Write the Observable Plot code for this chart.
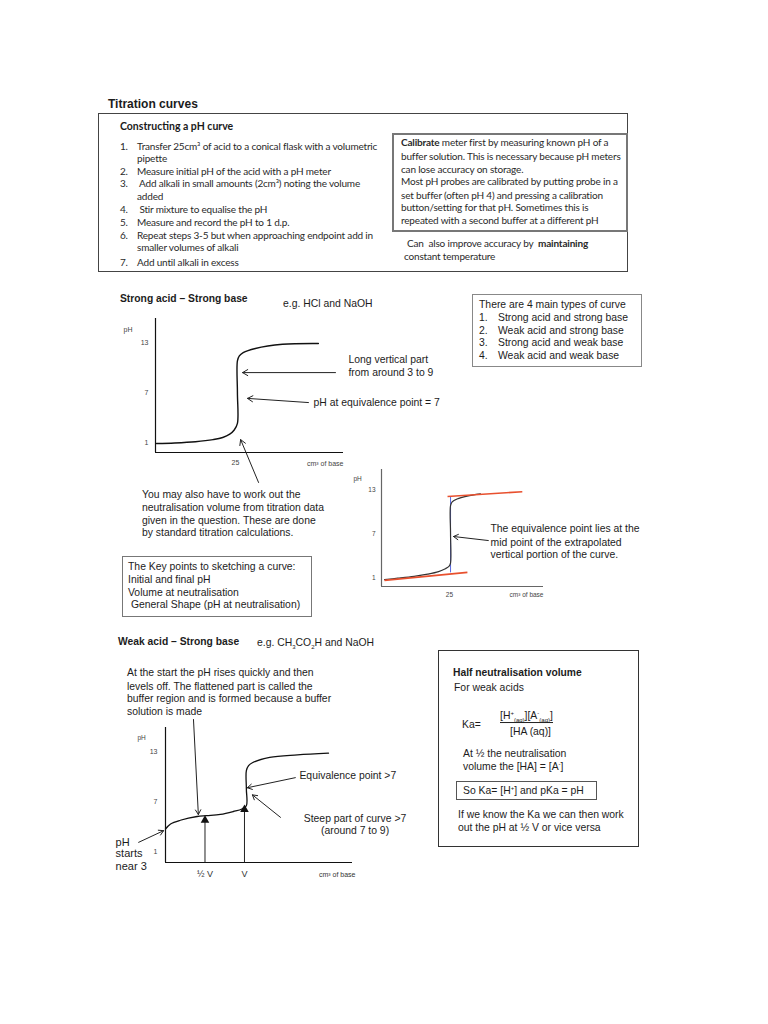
<!DOCTYPE html>
<html><head><meta charset="utf-8">
<script src="https://cdn.jsdelivr.net/npm/d3@7"></script>
<script src="https://cdn.jsdelivr.net/npm/@observablehq/plot@0.6"></script>
<style>
html,body{margin:0;padding:0;background:#fff;}
#page{position:relative;width:768px;height:1024px;overflow:hidden;font-family:"Liberation Sans",Arial,sans-serif;color:#1c1c1c;background:#fff;}
.t{position:absolute;white-space:pre;transform:translateY(-50%);line-height:1.15;}
.c{font-family:Lato,"Open Sans",sans-serif;color:#2a2a2a;font-size:10px;letter-spacing:-0.18px;}
.a{font-size:10.4px;}
.box{position:absolute;box-sizing:border-box;}
.pl{position:absolute;}
sub.s,sup.s{font-size:6px;line-height:0;}
</style></head><body><div id="page"></div>
<script>
// ---------- Chart 1: strong acid – strong base ----------
const sasbVolume = [0.3, 6, 12.5, 18, 21, 23.2, 24.6, 25.6, 25.6, 25.6, 26.2, 27.4, 31.2, 39.7, 50.9];
const sasbPH     = [0.88, 0.95, 1.1, 1.35, 1.6, 2.0, 2.5, 3.3, 7, 10.8, 11.4, 11.8, 12.3, 12.8, 12.9];
const sasbYTicks = [1, 7, 13];
const sasbXTicks = [25];
const sasbArrows = [
  {x1: 56.25, y1: 9.4, x2: 27.2, y2: 9.4},
  {x1: 47.8, y1: 5.8, x2: 28.75, y2: 6.3},
  {x1: 32.2, y1: -3.8, x2: 26.6, y2: 1.35}
];
const sasbNotes = [
  {x: 60.3, y: 10.96, text: "Long vertical part"},
  {x: 60.3, y: 9.4, text: "from around 3 to 9"},
  {x: 49.4, y: 5.8, text: "pH at equivalence point = 7"}
];

// ---------- Chart 2: extrapolated equivalence point ----------
const eqVolume = [1.1, 6, 12, 17, 21, 23.5, 24.9, 25.4, 25.4, 25.4, 26, 27.8, 31.5, 36.4];
const eqPH     = [0.72, 0.9, 1.15, 1.45, 1.8, 2.2, 2.55, 3.0, 7, 10.8, 11.3, 11.7, 12.1, 12.4];
const eqYTicks = [1, 7, 13];
const eqXTicks = [25];
const eqTangents = [
  {x1: 1.1, y1: 0.6, x2: 31.6, y2: 1.7},
  {x1: 24.3, y1: 12.05, x2: 51.8, y2: 12.7}
];
const eqVertical = [{x: 25.4, y1: 1.7, y2: 12.05}];
const eqArrows = [{x1: 39.3, y1: 6.04, x2: 26.5, y2: 6.59}];
const eqNotes = [
  {x: 40.1, y: 7.68, text: "The equivalence point lies at the"},
  {x: 40.1, y: 5.77, text: "mid point of the extrapolated"},
  {x: 40.1, y: 4.13, text: "vertical portion of the curve."}
];

// ---------- Chart 3: weak acid – strong base ----------
const wasbVolume = [0, 1.6, 4.7, 10, 13, 17.4, 21.5, 24.2, 25.6, 25.6, 25.6, 26.3, 27.5, 33, 41.8, 51.6];
const wasbPH     = [3.7, 4.3, 4.75, 5.2, 5.3, 5.45, 5.8, 6.1, 6.5, 8.5, 10.7, 11.3, 11.65, 12.3, 12.6, 12.8];
const wasbYTicks = [1, 7, 13];
const wasbXTicks = [12.5, 25];
const wasbXTickLabels = ["½ V", "V"];
const wasbArrows = [
  {x1: 8.86, y1: 16.84, x2: 10.4, y2: 5.44},
  {x1: 41.1, y1: 9.86, x2: 25.9, y2: 8.65},
  {x1: 36.4, y1: 5.1, x2: 27.5, y2: 7.8},
  {x1: -8.5, y1: 2.1, x2: -0.6, y2: 3.5}
];
const wasbUpArrows = [{x: 12.5, y1: -0.32, y2: 5.1}, {x: 25, y1: -0.32, y2: 6.4}];
const wasbNotesLeft = [
  {x: 42.4, y: 10.1, text: "Equivalence point >7"}
];
const wasbNotesCentred = [
  {x: 60, y: 4.96, text: "Steep part of curve >7"},
  {x: 60, y: 3.52, text: "(around 7 to 9)"}
];
const wasbStartNotes = [
  {x: -15.8, y: 2.08, text: "pH"},
  {x: -15.8, y: 0.76, text: "starts"},
  {x: -15.8, y: -0.8, text: "near 3"}
];

// ---------- page helpers ----------
const page = document.getElementById("page");
function T(x, y, html, cls = "a", extra = "") {
  const d = document.createElement("div");
  d.className = "t " + cls;
  d.style.left = x + "px"; d.style.top = y + "px";
  if (extra) d.style.cssText += extra;
  d.innerHTML = html;
  page.appendChild(d);
}
function B(x1, y1, x2, y2, border) {
  const d = document.createElement("div");
  d.className = "box";
  d.style.left = x1 + "px"; d.style.top = y1 + "px";
  d.style.width = (x2 - x1) + "px"; d.style.height = (y2 - y1) + "px";
  d.style.border = border;
  page.appendChild(d);
}
function place(svg, x, y) {
  svg.classList.add("pl");
  svg.style.left = x + "px"; svg.style.top = y + "px";
  page.appendChild(svg);
}
const FONT = "'Liberation Sans', Arial, sans-serif";
const baseStyle = {fontFamily: FONT, color: "#222", background: "transparent", overflow: "visible"};
const line = (xs, ys) => xs.map((v, i) => ({x: v, y: ys[i]}));

// ---------- top section ----------
T(108, 105, "<b>Titration curves</b>", "a", "font-size:12px;");
B(98, 113, 628, 272, "1.5px solid #444");
T(120, 126, "<b>Constructing a pH curve</b>", "c", "font-size:10.5px;color:#1a1a1a;letter-spacing:0;");
const steps = [
  [147, "1.", "Transfer 25cm³ of acid to a conical flask with a volumetric"],
  [159, "", "pipette"],
  [172, "2.", "Measure initial pH of the acid with a pH meter"],
  [184, "3.", " Add alkali in small amounts (2cm³) noting the volume"],
  [197, "", "added"],
  [210, "4.", " Stir mixture to equalise the pH"],
  [223, "5.", "Measure and record the pH to 1 d.p."],
  [236, "6.", "Repeat steps 3-5 but when approaching endpoint add in"],
  [248, "", "smaller volumes of alkali"],
  [263, "7.", "Add until alkali in excess"]
];
for (const [y, n, s] of steps) { if (n) T(120, y, n, "c"); T(137, y, s, "c"); }
B(392, 133, 628, 232, "2px solid #777");
const calib = [
  [143, "<b>Calibrate</b> meter first by measuring known pH of a"],
  [157, "buffer solution. This is necessary because pH meters"],
  [169.5, "can lose accuracy on storage."],
  [182, "Most pH probes are calibrated by putting probe in a"],
  [195.5, "set buffer (often pH 4) and pressing a calibration"],
  [208, "button/setting for that pH. Sometimes this is"],
  [221, "repeated with a second buffer at a different pH"]
];
for (const [y, s] of calib) T(401, y, s, "c");
T(407, 244, "Can  also improve accuracy by  <b>maintaining</b>", "c");
T(404, 257, "constant temperature", "c");

// ---------- chart 1 section ----------
T(120, 299, "<b>Strong acid – Strong base</b>", "a", "font-size:10.3px;");
T(283, 304, "e.g. HCl and NaOH");
B(472, 294, 642, 367, "1.5px solid #888");
T(479, 305, "There are 4 main types of curve");
const types = ["Strong acid and strong base", "Weak acid and strong base", "Strong acid and weak base", "Weak acid and weak base"];
types.forEach((s, i) => { T(479, 318 + i * 12.7, (i + 1) + "."); T(498, 318 + i * 12.7, s); });

place(Plot.plot({
  width: 360, height: 185,
  marginLeft: 55, marginRight: 117, marginTop: 10, marginBottom: 41,
  x: {domain: [0, 58.75], axis: null},
  y: {domain: [-0.2, 15.9], axis: null},
  style: baseStyle,
  marks: [
    Plot.axisY(sasbYTicks, {tickSize: 0, tickPadding: 7, fontSize: 7, label: null, fill: "#444"}),
    Plot.axisX(sasbXTicks, {tickSize: 0, tickPadding: 8, fontSize: 7, label: null, fill: "#444"}),
    Plot.ruleX([0], {stroke: "#111", strokeWidth: 1.2}),
    Plot.ruleY([-0.2], {stroke: "#111", strokeWidth: 1.2}),
    Plot.text(["pH"], {frameAnchor: "top-left", dx: -32, dy: 9, textAnchor: "start", fontSize: 7, fill: "#444"}),
    Plot.text(["cm³ of base"], {frameAnchor: "bottom-right", dy: 11, textAnchor: "end", lineAnchor: "middle", fontSize: 7, fill: "#444"}),
    Plot.line(line(sasbVolume, sasbPH), {x: "x", y: "y", curve: "catmull-rom", stroke: "#111", strokeWidth: 1.4}),
    Plot.arrow(sasbArrows, {x1: "x1", y1: "y1", x2: "x2", y2: "y2", stroke: "#222", strokeWidth: 1, headLength: 9}),
    Plot.text(sasbNotes, {x: "x", y: "y", text: "text", textAnchor: "start", lineAnchor: "middle", fontSize: 10.4, fill: "#1c1c1c"})
  ]
}), 100, 308);

T(142, 495, "You may also have to work out the");
T(142, 508, "neutralisation volume from titration data");
T(142, 521, "given in the question. These are done");
T(142, 533, "by standard titration calculations.");
B(122, 556, 312, 617, "1px solid #777");
T(128, 567, "The Key points to sketching a curve:");
T(128, 580, "Initial and final pH");
T(128, 593, "Volume at neutralisation");
T(128, 605, " General Shape (pH at neutralisation)");

// ---------- chart 2 ----------
place(Plot.plot({
  width: 300, height: 145,
  marginLeft: 36, marginRight: 102, marginTop: 9, marginBottom: 19,
  x: {domain: [0, 59.6], axis: null},
  y: {domain: [-0.23, 15.73], axis: null},
  style: baseStyle,
  marks: [
    Plot.axisY(eqYTicks, {tickSize: 0, tickPadding: 6, fontSize: 6.5, label: null, fill: "#444"}),
    Plot.axisX(eqXTicks, {tickSize: 0, tickPadding: 5.5, fontSize: 6.5, label: null, fill: "#444"}),
    Plot.ruleX([0], {stroke: "#666", strokeWidth: 1.2}),
    Plot.ruleY([-0.23], {stroke: "#666", strokeWidth: 1.2}),
    Plot.text(["pH"], {frameAnchor: "top-left", dx: -28, dy: 7, textAnchor: "start", fontSize: 6.5, fill: "#444"}),
    Plot.text(["cm³ of base"], {frameAnchor: "bottom-right", dy: 8, textAnchor: "end", lineAnchor: "middle", fontSize: 6.5, fill: "#444"}),
    Plot.link(eqVertical, {x1: "x", x2: "x", y1: "y1", y2: "y2", stroke: "#4a5ae0", strokeWidth: 0.9}),
    Plot.line(line(eqVolume, eqPH), {x: "x", y: "y", curve: "catmull-rom", stroke: "#333", strokeWidth: 1.2}),
    Plot.link(eqTangents, {x1: "x1", y1: "y1", x2: "x2", y2: "y2", stroke: "#e8502e", strokeWidth: 1.6}),
    Plot.arrow(eqArrows, {x1: "x1", y1: "y1", x2: "x2", y2: "y2", stroke: "#222", strokeWidth: 1, headLength: 8}),
    Plot.text(eqNotes, {x: "x", y: "y", text: "text", textAnchor: "start", lineAnchor: "middle", fontSize: 10.4, fill: "#1c1c1c"})
  ]
}), 345, 460);

// ---------- chart 3 section ----------
T(118, 642, "<b>Weak acid – Strong base</b>", "a", "font-size:10.3px;");
T(257, 643, "e.g. CH<sub class='s'>3</sub>CO<sub class='s'>2</sub>H and NaOH");
T(127, 673, "At the start the pH rises quickly and then");
T(127, 687, "levels off. The flattened part is called the");
T(127, 699, "buffer region and is formed because a buffer");
T(127, 712, "solution is made");

place(Plot.plot({
  width: 310, height: 185,
  marginLeft: 60, marginRight: 63, marginTop: 27, marginBottom: 23,
  x: {domain: [0, 59.2], axis: null},
  y: {domain: [-0.32, 15.88], axis: null},
  style: baseStyle,
  marks: [
    Plot.axisY(wasbYTicks, {tickSize: 0, tickPadding: 8, fontSize: 7, label: null, fill: "#444"}),
    Plot.axisX(wasbXTicks, {tickSize: 0, tickPadding: 8, fontSize: 9, label: null, fill: "#333", tickFormat: (d, i) => wasbXTickLabels[i]}),
    Plot.ruleX([0], {stroke: "#111", strokeWidth: 1.2}),
    Plot.ruleY([-0.32], {stroke: "#111", strokeWidth: 1.2}),
    Plot.text(["pH"], {frameAnchor: "top-left", dx: -28, dy: 8, textAnchor: "start", fontSize: 6.5, fill: "#444"}),
    Plot.text(["cm³ of base"], {frameAnchor: "bottom-right", dx: 3, dy: 12, textAnchor: "end", lineAnchor: "middle", fontSize: 7, fill: "#333"}),
    Plot.line(line(wasbVolume, wasbPH), {x: "x", y: "y", curve: "catmull-rom", stroke: "#111", strokeWidth: 1.3}),
    Plot.arrow(wasbArrows, {x1: "x1", y1: "y1", x2: "x2", y2: "y2", stroke: "#222", strokeWidth: 1, headLength: 8}),
    Plot.link(wasbUpArrows, {x1: "x", x2: "x", y1: "y1", y2: "y2", stroke: "#222", strokeWidth: 1}),
    Plot.dot(wasbUpArrows, {x: "x", y: "y2", symbol: "triangle", r: 3.2, fill: "#111", dy: 3}),
    Plot.text(wasbNotesLeft, {x: "x", y: "y", text: "text", textAnchor: "start", lineAnchor: "middle", fontSize: 10.4, fill: "#1c1c1c"}),
    Plot.text(wasbNotesCentred, {x: "x", y: "y", text: "text", textAnchor: "middle", lineAnchor: "middle", fontSize: 10.4, fill: "#1c1c1c"}),
    Plot.text(wasbStartNotes, {x: "x", y: "y", text: "text", textAnchor: "start", lineAnchor: "middle", fontSize: 11, fill: "#1c1c1c"})
  ]
}), 105, 700);

// ---------- half neutralisation box ----------
B(438, 650, 639, 847, "1.5px solid #333");
T(453, 673, "<b>Half neutralisation volume</b>", "a", "font-size:10.3px;");
T(454, 688, "For weak acids");
T(500, 716, "<span style='border-bottom:1px solid #222;padding-bottom:1px'>[H<sup class='s'>+</sup><sub class='s'>(aq)</sub>][A<sup class='s'>-</sup><sub class='s'>(aq)</sub>]</span>");
T(462, 725, "Ka=");
T(510, 732, "[HA (aq)]");
T(463, 754, "At ½ the neutralisation");
T(463, 767, "volume the [HA] = [A<sup class='s'>-</sup>]");
B(456, 781, 597, 800, "1px solid #555");
T(463, 791, "So Ka= [H<sup class='s'>+</sup>] and pKa = pH");
T(458, 815, "If we know the Ka we can then work");
T(458, 828, "out the pH at ½ V or vice versa");
</script></body></html>
